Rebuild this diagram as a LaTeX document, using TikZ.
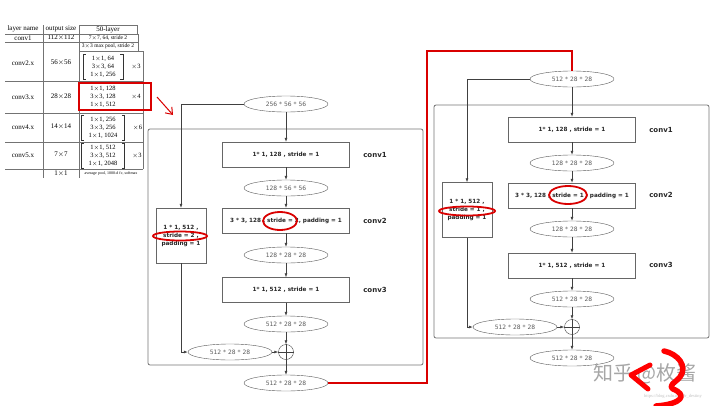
\documentclass[tikz,border=0pt]{standalone}
\usepackage{fontspec}
\setmainfont{Liberation Serif}
\newfontfamily\diagfont{DejaVu Sans}
\newfontfamily\cjkfont{Noto Sans CJK SC}
\usetikzlibrary{arrows.meta,shapes.geometric}

% square brackets round a cell of the table
\newcommand{\brackets}[1]{%
  \draw[brk] ([xshift=2.5pt]#1.north west) -| (#1.south west) -- ++(2.5,0);
  \draw[brk] ([xshift=-2.5pt]#1.north east) -| (#1.south east) -- ++(-2.5,0);}

\begin{document}
\begin{tikzpicture}[x=1pt,y=-1pt,
          fmap/.style={ellipse, draw=black!65, minimum width=84pt, minimum height=16pt,
                       inner sep=0pt, font=\diagfont\fontsize{6}{7}\selectfont, text=black!65},
          blk/.style={draw=black!60, minimum width=127pt, minimum height=25pt, inner sep=0pt,
                      font=\diagfont\bfseries\fontsize{5.7}{7}\selectfont, text=black!85},
          sc/.style={draw=black!60, minimum width=50pt, minimum height=55pt, inner sep=0pt,
                     align=center, font=\diagfont\bfseries\fontsize{5.7}{8}\selectfont, text=black!85},
          lbl/.style={font=\diagfont\bfseries\fontsize{7}{8}\selectfont, text=black!85},
          addop/.style={circle, draw=black!75, minimum size=15pt, inner sep=0pt},
          outer/.style={draw=black!55, rounded corners=2pt, line width=0.8pt},
          arr/.style={-{Latex[length=4pt,width=3pt]}, black!75, line width=0.6pt},
          hl/.style={draw=red!85!black, line width=1.8pt},
          tab/.style={font=\fontsize{7}{8}\selectfont, inner sep=0pt},
          tabs/.style={font=\fontsize{5.5}{6}\selectfont, inner sep=0pt},
          tabb/.style={font=\fontsize{6.5}{8}\selectfont, align=center, inner xsep=7pt, inner ysep=1.5pt},
          brk/.style={draw=black!80, line width=0.6pt},
          grid/.style={draw=black!55, line width=0.4pt}
        ]
          \useasboundingbox (0,0) rectangle (720,405);

          % table of layers
          \node[tab] (hname) at (23,29) {layer name};
          \node[tab] (hsize) at (61,29) {output size};
          \node[tab, draw=black!55, minimum width=58pt, minimum height=9pt] (hfifty) at (108,29.5) {50-layer};
          \node[tab] (r1name) at (23,38) {conv1};
          \node[tab] (r1size) at (61,38) {112$\times$112};
          \node[tabs] (r1op) at (108,38) {7$\times$7, 64, stride 2};
          \node[tabs] (r1pool) at (108,46.5) {3$\times$3 max pool, stride 2};
          \node[tab] (r2name) at (23,63) {conv2.x};
          \node[tab] (r2size) at (61,63) {56$\times$56};
          \node[tabb] (r2op) at (103,67) {1$\times$1, 64\\3$\times$3, 64\\1$\times$1, 256};
          \node[tab, font=\fontsize{6.5}{8}\selectfont] (r2rep) at (136,67) {$\times$3};
          \node[tab] (r3name) at (23,97) {conv3.x};
          \node[tab] (r3size) at (61,97) {28$\times$28};
          \node[tabb] (r3op) at (103,97) {1$\times$1, 128\\3$\times$3, 128\\1$\times$1, 512};
          \node[tab, font=\fontsize{6.5}{8}\selectfont] (r3rep) at (136,97) {$\times$4};
          \node[tab] (r4name) at (23,127) {conv4.x};
          \node[tab] (r4size) at (61,127) {14$\times$14};
          \node[tabb] (r4op) at (103,127.5) {1$\times$1, 256\\3$\times$3, 256\\1$\times$1, 1024};
          \node[tab, font=\fontsize{6.5}{8}\selectfont] (r4rep) at (137.5,127.5) {$\times$6};
          \node[tab] (r5name) at (23,155) {conv5.x};
          \node[tab] (r5size) at (61,155) {7$\times$7};
          \node[tabb] (r5op) at (103,155.5) {1$\times$1, 512\\3$\times$3, 512\\1$\times$1, 2048};
          \node[tab, font=\fontsize{6.5}{8}\selectfont] (r5rep) at (137,155.5) {$\times$3};
          \node[tab] (r6size) at (61,174) {1$\times$1};
          \node[font=\fontsize{4}{5}\selectfont, inner sep=0pt] (r6op) at (111,174) {average pool, 1000-d fc, softmax};
          \brackets{r2op}
          \brackets{r4op}
          \brackets{r5op}
          \draw[grid] (5,34) -- (138,34) (5,42) -- (138,42) (79,51) -- (143,51);
          \draw[grid] (5,81) -- (143,81) (5,113) -- (143,113) (5,142) -- (143,142) (5,169) -- (143,169);
          \draw[grid] (43,25) -- (43,178) (79,25) -- (79,178) (138,34) -- (138,51) (143,51) -- (143,169);

          % highlight of conv3.x
          \draw[hl] (79,83) rectangle (151,110);
          \coordinate (tipstart) at (157,97);
          \coordinate (tipend) at (173,115);
          \draw[hl, line width=1pt, -{Straight Barb[length=6pt,width=9pt]}] (tipstart) -- (tipend);

          % first block, stride 2
          \draw[outer] (148,129) rectangle (423,365);
          \node[fmap] (a0) at (286,104) {256 * 56 * 56};
          \node[blk]  (c1) at (286,154.5) {1* 1, 128 , stride = 1};
          \node[fmap] (f1) at (286,188) {128 * 56 * 56};
          \node[blk]  (c2) at (286,220.5) {3 * 3, 128 , stride = 2, padding = 1};
          \node[fmap] (f2) at (286,255) {128 * 28 * 28};
          \node[blk]  (c3) at (286,290) {1* 1, 512 , stride = 1};
          \node[fmap] (f3) at (286,324) {512 * 28 * 28};
          \node[addop] (p1) at (286,352) {};
          \node[fmap] (f4) at (230,352) {512 * 28 * 28};
          \node[sc]   (s1) at (181,235.5) {1 * 1, 512 ,\\stride = 2 ,\\padding = 1};
          \node[fmap] (f5) at (286,383) {512 * 28 * 28};
          \node[lbl] (l1) at (375,155) {conv1};
          \node[lbl] (l2) at (375,221) {conv2};
          \node[lbl] (l3) at (375,290) {conv3};
          \draw[black!75, line width=0.9pt] (p1.north) -- (p1.south) (p1.west) -- (p1.east);
          \draw[arr] (a0) -- (c1);
          \draw[arr] (c1) -- (f1);
          \draw[arr] (f1) -- (c2);
          \draw[arr] (c2) -- (f2);
          \draw[arr] (f2) -- (c3);
          \draw[arr] (c3) -- (f3);
          \draw[arr] (f3) -- (p1);
          \draw[arr] (f4) -- (p1);
          \draw[arr] (p1) -- (f5);
          \draw[arr] (a0.west) -| (s1);
          \draw[arr] (s1) |- (f4);

          % second block, stride 1
          \draw[outer] (434,105) rectangle (709,338);
          \node[fmap] (b0) at (572,79) {512 * 28 * 28};
          \node[blk]  (d1) at (572,129.5) {1* 1, 128 , stride = 1};
          \node[fmap] (g1) at (572,163) {128 * 28 * 28};
          \node[blk]  (d2) at (572,195.5) {3 * 3, 128 , stride = 1 , padding = 1};
          \node[fmap] (g2) at (572,229) {128 * 28 * 28};
          \node[blk]  (d3) at (572,265.5) {1* 1, 512 , stride = 1};
          \node[fmap] (g3) at (572,299) {512 * 28 * 28};
          \node[addop] (p2) at (572,327) {};
          \node[fmap] (g4) at (515,327) {512 * 28 * 28};
          \node[sc]   (s2) at (467,210) {1 * 1, 512 ,\\stride = 1 ,\\padding = 1};
          \node[fmap] (g5) at (572,358) {512 * 28 * 28};
          \node[lbl] (m1) at (661,130) {conv1};
          \node[lbl] (m2) at (661,195) {conv2};
          \node[lbl] (m3) at (661,265) {conv3};
          \draw[black!75, line width=0.9pt] (p2.north) -- (p2.south) (p2.west) -- (p2.east);
          \draw[arr] (b0) -- (d1);
          \draw[arr] (d1) -- (g1);
          \draw[arr] (g1) -- (d2);
          \draw[arr] (d2) -- (g2);
          \draw[arr] (g2) -- (d3);
          \draw[arr] (d3) -- (g3);
          \draw[arr] (g3) -- (p2);
          \draw[arr] (g4) -- (p2);
          \draw[arr] (p2) -- (g5);
          \draw[arr] (b0.west) -| (s2);
          \draw[arr] (s2) |- (g4);

          % red marks
          \coordinate (bend) at (427,51);
          \draw[hl] (f5.east) -| (bend) -| (b0.north);
          \draw[hl] (280,221) ellipse (17 and 9);
          \draw[hl] (180,236) ellipse (27 and 4.5);
          \draw[hl] (568,195) ellipse (19 and 9);
          \draw[hl] (467,211) ellipse (28 and 4.5);

          % watermark
          \node[font=\cjkfont\fontsize{20}{22}\selectfont, text=black!35, inner sep=0pt] (wm) at (645,374) {知乎 @枚酱};
          \node[font=\fontsize{4.5}{5}\selectfont, text=black!25, inner sep=0pt] (url) at (673,396) {https://blog.csdn.net/Dr\_destiny};
          \draw[red, line width=5pt, line cap=round, line join=round] (650,365) -- (631,375) -- (648,389);
          \draw[red, line width=5.5pt, line cap=round, line join=round]
            (664,351) .. controls (678,354) and (688,366) .. (680,377)
            .. controls (675,383) and (668,385) .. (673,389)
            .. controls (688,395) and (682,404) .. (656,406);
        \end{tikzpicture}
\end{document}
